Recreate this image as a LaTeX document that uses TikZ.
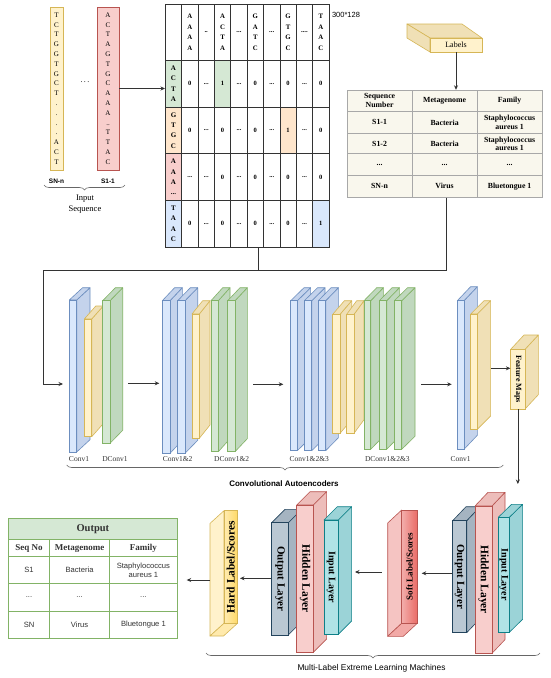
\documentclass[tikz,border=0pt]{standalone}
\usepackage{fontspec}
\setmainfont{Liberation Serif}
\setsansfont{Liberation Sans}
\usetikzlibrary{arrows.meta,decorations.pathreplacing,fit,calc}
\definecolor{blF}{HTML}{DAE8FC}\definecolor{blS}{HTML}{C4D3EC}\definecolor{blD}{HTML}{6C8EBF}
\definecolor{yeF}{HTML}{FFF2CC}\definecolor{yeS}{HTML}{F0E0B6}\definecolor{yeD}{HTML}{D6B656}
\definecolor{grF}{HTML}{D5E8D4}\definecolor{grS}{HTML}{C0D8BE}\definecolor{grD}{HTML}{82B366}
\definecolor{ouF}{HTML}{BAC8D3}\definecolor{ouS}{HTML}{A5B4C1}\definecolor{ouD}{HTML}{23445D}
\definecolor{hiF}{HTML}{F8CECC}\definecolor{hiS}{HTML}{EDBDBA}\definecolor{hiD}{HTML}{B85450}
\definecolor{inF}{HTML}{B0E3E6}\definecolor{inS}{HTML}{9BD3D7}\definecolor{inD}{HTML}{0E8088}
\definecolor{orF}{HTML}{FFE6CC}
\definecolor{beF}{HTML}{F9F7ED}\definecolor{beD}{HTML}{A8A8A8}
\definecolor{lineC}{HTML}{333333}
\definecolor{braceC}{HTML}{666666}
\definecolor{sfL}{HTML}{F5C4C2}\definecolor{sfR}{HTML}{EA6B66}\definecolor{sfD}{HTML}{B85450}
\definecolor{hdL}{HTML}{FFF2CC}\definecolor{hdR}{HTML}{FFD966}\definecolor{hdD}{HTML}{D6B656}
\newcommand{\mdots}{...}
% slab: #1 name, #2 x1, #3 top, #4 x2, #5 bottom, #6 dx, #7 dy, #8 colour prefix
\newcommand{\mkslab}[8]{%
 \filldraw[draw=#8D,fill=#8S,line join=round,line width=0.6pt] (#4,#3) -- ++(#6,-#7) -- ++(0,#5-#3) -- (#4,#5) -- cycle;
 \filldraw[draw=#8D,fill=#8S,line join=round,line width=0.6pt] (#2,#3) -- ++(#6,-#7) -- (#4+#6,#3-#7) -- (#4,#3) -- cycle;
 \node[fit={(#2,#3)(#4,#5)},inner sep=0pt,draw=#8D,fill=#8F,line width=0.6pt] (#1) {};
}
% flipped box (side face down-left)
\newcommand{\mkflip}[8]{%
 \filldraw[draw=#8D,fill=#8L,line join=round,line width=0.6pt] (#2,#3) -- ++(-#6,#7) -- ++(0,#5-#3) -- (#2,#5) -- cycle;
 \filldraw[draw=#8D,fill=#8L!70!#8R,line join=round,line width=0.6pt] (#2,#5) -- ++(-#6,#7) -- (#4-#6,#5+#7) -- (#4,#5) -- cycle;
 \node[fit={(#2,#3)(#4,#5)},inner sep=0pt,draw=#8D,left color=#8L!75!#8R,right color=#8R,line width=0.6pt] (#1) {};
}
\begin{document}
\begin{tikzpicture}[x=1pt,y=-1pt,
 ln/.style={draw=lineC,line width=0.7pt},
 arr/.style={draw=lineC,line width=0.7pt,-{Stealth[length=4.5pt,width=4pt]}},
 brc/.style={draw=braceC,line width=0.6pt,decorate,decoration={brace,mirror,amplitude=5pt}},
 mcell/.style={draw=lineC,line width=0.6pt,minimum width=16.37,minimum height=46.67,inner sep=0,anchor=north west},
 mhead/.style={mcell,minimum height=56,font=\bfseries\fontsize{6.8}{10.8}\selectfont,align=center},
 mdat/.style={mcell,font=\bfseries\fontsize{6.5}{7}\selectfont},
 mrow/.style={mcell,font=\bfseries\fontsize{7}{10.3}\selectfont,align=center},
 ltc/.style={draw=beD,fill=beF,line width=0.8pt,minimum width=65,inner sep=0,anchor=north west,align=center,font=\bfseries\fontsize{7.8}{8.6}\selectfont},
 otc/.style={draw=grD,line width=0.8pt,inner sep=0,anchor=north west,align=center,text=black!80,font=\sffamily\fontsize{7.6}{9}\selectfont},
 aelab/.style={font=\fontsize{7.5}{8}\selectfont,text=black!80,inner sep=1pt},
 lyr/.style={rotate=-90,font=\bfseries\fontsize{11}{12}\selectfont,inner sep=0}
]
\fill[white] (0,0) rectangle (550,678);
\useasboundingbox (0,0) rectangle (550,678);

% ---------- input sequences ----------
\node[draw=yeD,fill=yeF,line width=0.7pt,fit={(50,7)(63,170)},inner sep=0] (snn) {};
\node[font=\fontsize{7}{9.8}\selectfont,align=center,inner sep=0] (snnT) at (snn.center) {T\\C\\T\\G\\G\\T\\G\\C\\T\\.\\.\\.\\.\\A\\C\\T};
\node[draw=hiD,fill=hiF,line width=0.7pt,fit={(97,7)(119,170)},inner sep=0] (s11) {};
\node[font=\fontsize{7}{9.8}\selectfont,align=center,inner sep=0] (s11T) at (s11.center) {A\\C\\T\\A\\G\\T\\G\\C\\A\\A\\A\\..\\T\\T\\A\\C};
\node[font=\fontsize{8}{9}\selectfont] (sdots) at (85,82) {.\,.\,.};
\node[font=\sffamily\bfseries\fontsize{6.5}{7}\selectfont] (snnL) at (56.5,181) {SN-n};
\node[font=\sffamily\bfseries\fontsize{6.5}{7}\selectfont] (s11L) at (108,181) {S1-1};
\draw[brc] (44,185) -- (125,185);
\node[font=\fontsize{8.5}{11}\selectfont,align=center] (inseq) at (85,204.5) {Input\\Sequence};

% ---------- matrix ----------
\fill[grF] (165,60) rectangle ++(16.37,46.67);
\fill[grF] ({165+16.37*3},60) rectangle ++(16.37,46.67);
\fill[orF] (165,106.67) rectangle ++(16.37,46.67);
\fill[orF] ({165+16.37*7},106.67) rectangle ++(16.37,46.67);
\fill[hiF] (165,153.33) rectangle ++(16.37,46.67);
\fill[blF] (165,200) rectangle ++(16.37,46.67);
\fill[blF] ({165+16.37*9},200) rectangle ++(16.37,46.67);
\foreach \c/\t in {0/{},1/{A\\A\\A\\A},2/{..},3/{A\\C\\T\\A},4/{\mdots},5/{G\\A\\T\\C},6/{\mdots},7/{G\\T\\G\\C},8/{....},9/{T\\A\\A\\C}}
  \node[mhead] (m0\c) at ({165+16.37*\c},4) {\t};
\node[mrow] (m10) at (165,60) {A\\C\\T\\A};
\foreach \c/\t in {1/0,2/\mdots,3/1,4/\mdots,5/0,6/\mdots,7/0,8/\mdots,9/0}
  \node[mdat] (m1\c) at ({165+16.37*\c},60) {\t};
\node[mrow] (m20) at (165,106.67) {G\\T\\G\\C};
\foreach \c/\t in {1/0,2/\mdots,3/0,4/\mdots,5/0,6/\mdots,7/1,8/\mdots,9/0}
  \node[mdat] (m2\c) at ({165+16.37*\c},106.67) {\t};
\node[mrow] (m30) at (165,153.33) {A\\A\\A\\...};
\foreach \c/\t in {1/\mdots,2/\mdots,3/0,4/\mdots,5/0,6/\mdots,7/0,8/\mdots,9/0}
  \node[mdat] (m3\c) at ({165+16.37*\c},153.33) {\t};
\node[mrow] (m40) at (165,200) {T\\A\\A\\C};
\foreach \c/\t in {1/0,2/\mdots,3/0,4/\mdots,5/0,6/\mdots,7/0,8/\mdots,9/1}
  \node[mdat] (m4\c) at ({165+16.37*\c},200) {\t};
\node[fit=(m00)(m49),inner sep=0] (mat) {};
\node[font=\sffamily\fontsize{7.5}{8}\selectfont] (msize) at (346,15) {300*128};
\draw[arr] (s11.east) -- (s11.east -| m10.west);

% ---------- labels ----------
\filldraw[draw=yeD,fill=yeS,line width=0.6pt,line join=round] (407,24) -- (462,24) -- (482,38) -- (430,38) -- cycle;
\filldraw[draw=yeD,fill=yeS,line width=0.6pt,line join=round] (407,24) -- (430,38) -- (430,52) -- (407,38) -- cycle;
\node[fit={(430,38)(482,52)},inner sep=0,draw=yeD,fill=yeF,line width=0.6pt] (lab) {};
\node[font=\fontsize{8}{9}\selectfont] (labT) at (lab.center) {Labels};
\foreach \r/\y/\h/\xa/\xb/\xc in {0/90/20.7/{Sequence\\Number}/Metagenome/Family, 1/110.7/22.6/S1-1/Bacteria/{Staphylococcus\\aureus 1}, 2/133.3/20/S1-2/Bacteria/{Staphylococcus\\aureus 1}, 3/153.3/21.7/\mdots/\mdots/\mdots, 4/175/21.7/SN-n/Virus/{Bluetongue 1}}{
  \node[ltc,minimum height=\h] (la\r) at (346.7,\y) {\xa};
  \node[ltc,minimum height=\h] (lb\r) at (411.7,\y) {\xb};
  \node[ltc,minimum height=\h] (lc\r) at (476.7,\y) {\xc};
}
\node[fit=(la0)(lc4),inner sep=0] (lt) {};
\draw[arr] (lab.south) -- (lab.south |- lt.north);

% ---------- connectors to autoencoder ----------
\coordinate (jm) at (258,270);
\coordinate (jl) at (446,270);
\coordinate (jc) at (43.3,270);
\coordinate (a1) at (63,384);
\draw[ln] (mat.south -| jm) -- (jm);
\draw[arr] (lt.south -| jl) -- (jl) -- (jc) -- (jc |- a1) -- (a1);

% ---------- autoencoder slabs ----------
\mkslab{g1b}{69.3}{300}{76.7}{452}{13.3}{12.3}{bl}
\mkslab{g1y}{84.3}{319}{91.7}{436.7}{11.5}{13}{ye}
\mkslab{g1g}{102.7}{300.7}{110}{443.3}{12.7}{13}{gr}

\mkslab{g2b1}{162.3}{300.7}{170}{453.3}{12.3}{13}{bl}
\mkslab{g2b2}{177.7}{300.7}{185}{453.3}{12.7}{13}{bl}
\mkslab{g2y}{192}{314}{199.3}{438.3}{10.7}{13.3}{ye}
\mkslab{g2g1}{211}{300.7}{218.3}{451.7}{11.7}{13}{gr}
\mkslab{g2g2}{227.7}{300.7}{235}{451.7}{12.3}{13}{gr}

\mkslab{g3b1}{290.7}{300.7}{297.3}{450.7}{13.3}{13}{bl}
\mkslab{g3b2}{304.3}{300.7}{311.7}{450.7}{13.3}{13}{bl}
\mkslab{g3b3}{318.3}{300.7}{325.7}{450.7}{12.7}{13}{bl}
\mkslab{g3y1}{332.7}{314.3}{340}{433.3}{11.7}{13.6}{ye}
\mkslab{g3y2}{346.7}{314.3}{354}{433.3}{10}{13.6}{ye}
\mkslab{g3g1}{364}{300.7}{370.7}{449.3}{12.7}{13}{gr}
\mkslab{g3g2}{379.3}{300.7}{386.7}{449.3}{12.7}{13}{gr}
\mkslab{g3g3}{394.3}{300.7}{401.7}{449.3}{13.3}{13}{gr}

\mkslab{g4b}{457.3}{300.7}{464}{449.3}{13.3}{14}{bl}
\mkslab{g4y}{470.7}{314}{477.3}{429.3}{13.3}{13.3}{ye}

\node[aelab] (t1) at (79,459) {Conv1};
\node[aelab] (t2) at (115,459) {DConv1};
\node[aelab] (t3) at (177.7,459) {Conv1\&2};
\node[aelab] (t4) at (231.7,459) {DConv1\&2};
\node[aelab] (t5) at (309.3,459) {Conv1\&2\&3};
\node[aelab] (t6) at (387.3,459) {DConv1\&2\&3};
\node[aelab] (t7) at (460.7,459) {Conv1};

\coordinate (a2s) at (128.3,383.3); \coordinate (a2e) at (159.3,383.3);
\coordinate (a3s) at (253.3,384.3); \coordinate (a3e) at (283.3,384.3);
\coordinate (a4s) at (421,384.3);   \coordinate (a4e) at (451.7,384.3);
\draw[arr] (a2s) -- (a2e);
\draw[arr] (a3s) -- (a3e);
\draw[arr] (a4s) -- (a4e);

% feature maps
\mkslab{fm}{510.7}{349.3}{525}{409}{13.3}{14.3}{ye}
\node[rotate=-90,font=\bfseries\fontsize{8}{9}\selectfont,inner sep=0] (fmT) at (fm.center) {Feature Maps};
\coordinate (a5s) at (491,368.3);
\draw[arr] (a5s) -- (fm.west |- a5s);
\coordinate (a6e) at (517.7,484);
\draw[arr] (fm.south) -- (fm.south |- a6e);

\draw[brc] (66.7,465) -- (503.3,465);
\node[font=\sffamily\bfseries\fontsize{8}{9}\selectfont] (aeT) at (284,483.3) {Convolutional Autoencoders};

% ---------- ELM ----------
\mkslab{ro}{452.7}{520.7}{466.7}{632.7}{13.3}{14}{ou}
\mkslab{rh}{475}{506}{492}{653.3}{13}{13.7}{hi}
\mkslab{ri}{498.3}{517.3}{509.3}{632.3}{13.3}{13}{in}
\node[lyr] (roT) at (ro.center) {Output Layer};
\node[lyr,font=\bfseries\fontsize{11.5}{12}\selectfont] (rhT) at (rh.center) {Hidden Layer};
\node[lyr,font=\bfseries\fontsize{10}{11}\selectfont] (riT) at (ri.center) {Input Layer};

\mkflip{soft}{401.7}{510}{417.3}{623.3}{14}{13}{sf}
\node[rotate=90,font=\bfseries\fontsize{9}{10}\selectfont,inner sep=0] (softT) at (soft.center) {Soft Label/Scores};

\mkslab{lo}{271.7}{522.7}{288.3}{635}{13.3}{13.3}{ou}
\mkslab{lh}{296.7}{505}{313.3}{652.3}{13.3}{13.3}{hi}
\mkslab{li}{324}{520}{338.3}{634.3}{13.3}{13.3}{in}
\node[lyr] (loT) at (lo.center) {Output Layer};
\node[lyr,font=\bfseries\fontsize{11.5}{12}\selectfont] (lhT) at (lh.center) {Hidden Layer};
\node[lyr,font=\bfseries\fontsize{10}{11}\selectfont] (liT) at (li.center) {Input Layer};

\mkflip{hard}{224}{510.7}{237.5}{623.3}{14}{12.7}{hd}
\node[rotate=90,font=\bfseries\fontsize{11.5}{12}\selectfont,inner sep=0] (hardT) at (hard.center) {Hard Label/Scores};

\coordinate (e1) at (421.7,573.3);
\draw[arr] (ro.west |- e1) -- (e1);
\coordinate (e2s) at (381.7,572); \coordinate (e2e) at (355,572);
\draw[arr] (e2s) -- (e2e);
\coordinate (e3e) at (240,578.3);
\draw[arr] (lo.west |- e3e) -- (e3e);
\coordinate (e4s) at (210,580); \coordinate (e4e) at (186.7,580);
\draw[arr] (e4s) -- (e4e);

\draw[brc] (206,653) -- (540,653);
\node[font=\sffamily\fontsize{8.4}{9}\selectfont] (elmT) at (371.5,668.3) {Multi-Label Extreme Learning Machines};

% ---------- output table ----------
\node[otc,fill=grF,minimum width=168.4,minimum height=21,font=\bfseries\fontsize{10.5}{11}\selectfont] (ot) at (8.3,518.3) {Output};
\node[otc,minimum width=40.7,minimum height=16.7,font=\bfseries\fontsize{9}{10}\selectfont] (oa0) at (8.3,539.3) {Seq No};
\node[otc,minimum width=60.3,minimum height=16.7,font=\bfseries\fontsize{9}{10}\selectfont] (ob0) at (49,539.3) {Metagenome};
\node[otc,minimum width=67.4,minimum height=16.7,font=\bfseries\fontsize{9}{10}\selectfont] (oc0) at (109.3,539.3) {Family};
\node[otc,minimum width=40.7,minimum height=27.3] (oa1) at (8.3,556) {S1};
\node[otc,minimum width=60.3,minimum height=27.3] (ob1) at (49,556) {Bacteria};
\node[otc,minimum width=67.4,minimum height=27.3] (oc1) at (109.3,556) {Staphylococcus\\aureus 1};
\node[otc,minimum width=40.7,minimum height=27.4] (oa2) at (8.3,583.3) {...};
\node[otc,minimum width=60.3,minimum height=27.4] (ob2) at (49,583.3) {...};
\node[otc,minimum width=67.4,minimum height=27.4] (oc2) at (109.3,583.3) {...};
\node[otc,minimum width=40.7,minimum height=27.3] (oa3) at (8.3,610.7) {SN};
\node[otc,minimum width=60.3,minimum height=27.3] (ob3) at (49,610.7) {Virus};
\node[otc,minimum width=67.4,minimum height=27.3] (oc3) at (109.3,610.7) {Bluetongue 1};
\end{tikzpicture}
\end{document}
